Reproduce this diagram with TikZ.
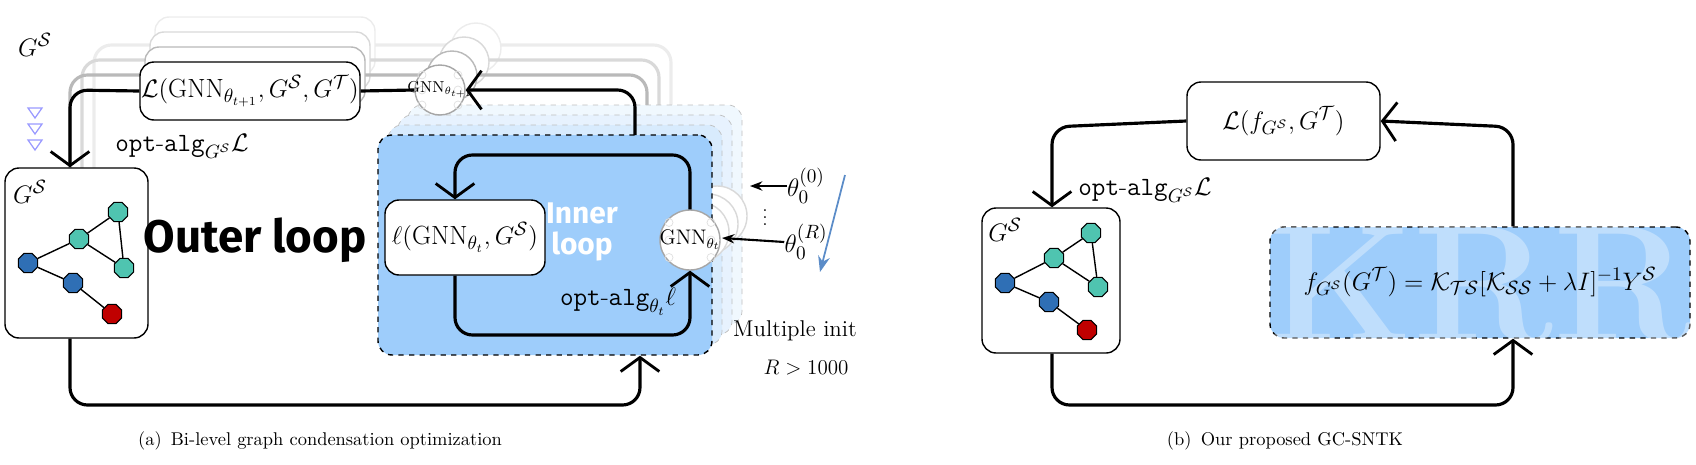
\documentclass[tikz,border=0pt]{standalone}
\usepackage{fontspec}
\usepackage{amsmath,amssymb}
\newfontfamily\comicf{Fira Sans}
\usetikzlibrary{arrows.meta,fit,shapes.geometric,calc}
\definecolor{kblue}{HTML}{9ECDFB}
\definecolor{teal1}{HTML}{4FC4B0}
\definecolor{blue1}{HTML}{2F6FB5}
\definecolor{red1}{HTML}{C00000}
\definecolor{steel}{HTML}{5B8CC8}
\begin{document}
\begin{tikzpicture}[x=0.02cm,y=-0.02cm,
  box/.style={draw,rounded corners=8pt,line width=0.8pt,fill=white,inner sep=0pt},
  loop/.style={line width=1.8pt,rounded corners=0.35cm},
  arr/.style={-{Straight Barb[length=8pt,width=22pt,line width=1.6pt]}},
  gnn/.style={circle,draw=gray!70,fill=white,line width=0.8pt,inner sep=0pt},
  gn/.style={regular polygon,regular polygon sides=8,draw,line width=0.6pt,minimum size=0.42cm,inner sep=0pt},
  ge/.style={line width=0.8pt},
  lbl/.style={inner sep=0pt},
  mt/.style={font=\fontsize{15}{17}\selectfont}]
\useasboundingbox (0,0) rectangle (1696,464);
% ---- shadows of the outer loop (left) ----
\foreach \i/\c in {3/gray!15,2/gray!30,1/gray!55}{
  \draw[line width=1.8pt,rounded corners=0.35cm,draw=\c] ({70+12*\i-12},{240-0*\i}) -- ({70+12*\i-12},{90-15*\i}) -- ({635+12*\i},{90-15*\i}) -- ({635+12*\i},{150});
  \draw[box,draw=\c] ({140+5*\i},{62-15*\i}) rectangle ({360+5*\i},{120-15*\i});
  \draw[gnn,draw=\c] ({440+12*\i},{90-14*\i}) circle (25);
}
\foreach \y in {108,124,140}{
  \draw[blue!40,line width=0.7pt] (28,\y) -- (42,\y) -- (35,{\y+10}) -- cycle;
}
% ---- blue inner shadows ----
\foreach \i/\o in {3/15,2/25,1/40}{
  \draw[dashed,draw=gray!50,fill=kblue!\o,rounded corners=8pt] ({378+10*\i},{135-10*\i}) rectangle ({712+10*\i},{355-10*\i});
}
\foreach \i in {3,2,1}{
  \draw[gnn,draw=gray!30] ({690+9*\i},{240-8*\i}) circle (30);
}
% ---- main nodes (a) ----
\node[box,fit={(140,62)(360,120)}] (L) {};
\node[lbl,mt] at (L.center) {$\mathcal{L}(\mathrm{GNN}_{\theta_{t+1}},G^{\mathcal{S}},G^{\mathcal{T}})$};
\node[gnn,minimum size=1.0cm] (G1) at (440,90) {};
\foreach \a in {-0.25,0,0.25}{\foreach \b in {-0.3,0.3}{\draw[gray!25] ($(G1)+(\b*60,\a*60)$) circle (4);}}
\node[lbl,font=\small] at (G1) {$\mathrm{GNN}_{\theta_{t+1}}$};
\node[box,fit={(5,168)(148,338)}] (GS) {};
\node[lbl,mt] at (30,192) {$G^{\mathcal{S}}$};
\node[lbl,mt] at (35,45) {$G^{\mathcal{S}}$};
\node[draw,dashed,line width=0.8pt,fill=kblue,rounded corners=8pt,inner sep=0pt,fit={(378,135)(712,355)}] (B) {};
\node[box,fit={(385,200)(545,275)}] (l) {};
\node[lbl,mt] at (l.center) {$\ell(\mathrm{GNN}_{\theta_t},G^{\mathcal{S}})$};
\node[gnn,minimum size=1.2cm] (G2) at (690,240) {};
\foreach \a in {-0.25,0,0.25}{\foreach \b in {-0.3,0.3}{\draw[gray!25] ($(G2)+(\b*70,\a*70)$) circle (4);}}
\node[lbl,font=\large] at (G2) {$\mathrm{GNN}_{\theta_t}$};
\node[lbl,font=\comicf\bfseries\fontsize{26}{26}\selectfont] (OL) at (255,240) {Outer loop};
\node[lbl,font=\comicf\bfseries\fontsize{17}{18}\selectfont,text=white,align=center] (IL) at (582,232) {Inner\\loop};
\node[lbl,mt] at (182,146) {$\mathtt{opt\text{-}alg}_{G^{\mathcal{S}}}\mathcal{L}$};
\node[lbl,mt] at (618,302) {$\mathtt{opt\text{-}alg}_{\theta_t}\ell$};
% graph (a)
\begin{scope}[shift={(5,168)}]
\node[gn,fill=teal1] (a1) at (113,44) {};
\node[gn,fill=teal1] (a2) at (74,71) {};
\node[gn,fill=teal1] (a3) at (119,100) {};
\node[gn,fill=blue1] (a4) at (23,95) {};
\node[gn,fill=blue1] (a5) at (68,115) {};
\node[gn,fill=red1] (a6) at (107,146) {};
\end{scope}
\draw[ge] (a4)--(a2) (a2)--(a1) (a1)--(a3) (a2)--(a3) (a4)--(a5) (a5)--(a6);
% loops (a)
\draw[loop,arr] (635,135) -- (635,90) -- (G1.east);
\draw[line width=1.8pt] (G1.west) -- (L.east);
\draw[loop,arr] (L.west) -- (70,90) -- (GS.north -| 70,0);
\draw[loop,arr] (GS.south -| 70,0) -- (70,405) -- (640,405) -- (B.south -| 640,0);
\draw[loop,arr] (l.south -| 455,0) -- (455,335) -- (690,335) -- (G2.south);
\draw[loop,arr] (G2.north) -- (690,155) -- (455,155) -- (l.north -| 455,0);
% init
\node[lbl,mt] (t0) at (806,186) {$\theta_0^{(0)}$};
\node[lbl,mt] (tR) at (806,242) {$\theta_0^{(R)}$};
\node[lbl] at (765,212) {$\vdots$};
\coordinate (e0) at (750,186);
\coordinate (eR) at (722,238);
\draw[line width=1.2pt,-{Stealth[length=7pt]}] (t0.west) -- (e0);
\draw[line width=1.2pt,-{Stealth[length=7pt]}] (tR.west) -- (eR);
\coordinate (ba) at (845,175); \coordinate (bb) at (820,272);
\draw[steel,line width=1pt,-{Stealth[length=9pt]}] (ba) -- (bb);
\node[lbl,font=\fontsize{13}{15}\selectfont] (MI) at (795,331) {Multiple init};
\node[lbl,font=\fontsize{13}{15}\selectfont] (RR) at (806,368) {$R>1000$};
\node[lbl,font=\fontsize{10.5}{12}\selectfont] (ca) at (320,441) {(a)\enspace Bi-level graph condensation optimization};
% ---- (b) ----
\node[box,fit={(1187,82)(1380,160)}] (L2) {};
\node[lbl,mt] at (L2.center) {$\mathcal{L}(f_{G^{\mathcal{S}}},G^{\mathcal{T}})$};
\node[box,fit={(982,208)(1120,353)}] (GS2) {};
\node[lbl,mt] at (1005,230) {$G^{\mathcal{S}}$};
\node[draw,dashed,line width=0.8pt,fill=kblue,rounded corners=8pt,inner sep=0pt,fit={(1270,227)(1690,338)}] (K) {};
\node[lbl,text=white,opacity=0.35,font=\bfseries\fontsize{95}{95}\selectfont] at (1480,285) {KRR};
\node[lbl,mt] at (1480,282) {$f_{G^{\mathcal{S}}}(G^{\mathcal{T}})=\mathcal{K}_{\mathcal{TS}}[\mathcal{K}_{\mathcal{SS}}+\lambda I]^{-1}Y^{\mathcal{S}}$};
\node[lbl,mt] at (1145,190) {$\mathtt{opt\text{-}alg}_{G^{\mathcal{S}}}\mathcal{L}$};
\begin{scope}[shift={(982,208)}]
\node[gn,fill=teal1] (b1) at (109,25) {};
\node[gn,fill=teal1] (b2) at (72,50) {};
\node[gn,fill=teal1] (b3) at (116,79) {};
\node[gn,fill=blue1] (b4) at (23,75) {};
\node[gn,fill=blue1] (b5) at (67,94) {};
\node[gn,fill=red1] (b6) at (105,122) {};
\end{scope}
\draw[ge] (b4)--(b2) (b2)--(b1) (b1)--(b3) (b2)--(b3) (b4)--(b5) (b5)--(b6);
\draw[loop,arr] (L2.west) -- (1052,127) -- (GS2.north -| 1052,0);
\draw[loop,arr] (GS2.south -| 1052,0) -- (1052,405) -- (1513,405) -- (K.south -| 1513,0);
\draw[loop,arr] (K.north -| 1513,0) -- (1513,127) -- (L2.east);
\node[lbl,font=\fontsize{10.5}{12}\selectfont] (cb) at (1285,441) {(b)\enspace Our proposed GC-SNTK};
\end{tikzpicture}
\end{document}
